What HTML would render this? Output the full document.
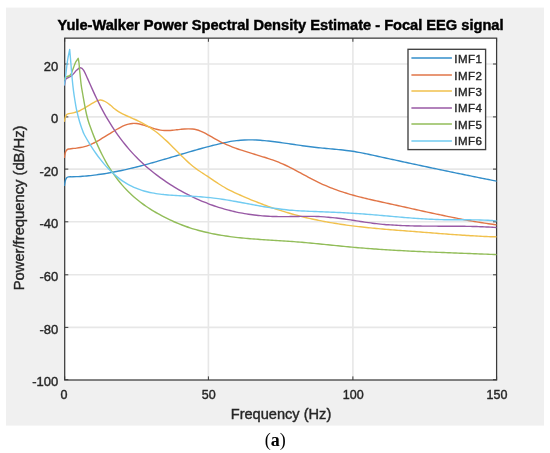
<!DOCTYPE html><html><head><meta charset="utf-8"><title>Yule-Walker PSD</title>
<style>html,body{margin:0;padding:0;background:#fff}svg{display:block}text{font-family:"Liberation Sans",Arial,Helvetica,sans-serif;fill:#262626;stroke:#262626;stroke-width:.4px}.ttl{fill:#000;stroke:#000;stroke-width:.45px}.cap{font-family:"Liberation Serif","DejaVu Serif",serif;fill:#000;stroke:none}</style></head><body>
<svg width="550" height="453" viewBox="0 0 550 453">
<rect x="0" y="0" width="550" height="453" fill="#fff"/>
<rect x="6" y="7.6" width="538" height="418" fill="#f0f0f0"/>
<rect x="64.7" y="38.15" width="431.90" height="341.85" fill="#fff"/>
<line x1="208.40" y1="38.15" x2="208.40" y2="380.0" stroke="#e7e7e7" stroke-width="1.6"/>
<line x1="352.90" y1="38.15" x2="352.90" y2="380.0" stroke="#e7e7e7" stroke-width="1.6"/>
<line x1="64.7" y1="64.00" x2="496.6" y2="64.00" stroke="#e7e7e7" stroke-width="1.6"/>
<line x1="64.7" y1="116.90" x2="496.6" y2="116.90" stroke="#e7e7e7" stroke-width="1.6"/>
<line x1="64.7" y1="169.10" x2="496.6" y2="169.10" stroke="#e7e7e7" stroke-width="1.6"/>
<line x1="64.7" y1="221.80" x2="496.6" y2="221.80" stroke="#e7e7e7" stroke-width="1.6"/>
<line x1="64.7" y1="274.80" x2="496.6" y2="274.80" stroke="#e7e7e7" stroke-width="1.6"/>
<line x1="64.7" y1="327.40" x2="496.6" y2="327.40" stroke="#e7e7e7" stroke-width="1.6"/>
<line x1="64.70" y1="380.0" x2="64.70" y2="376.4" stroke="#3a3a3a" stroke-width="1"/>
<line x1="64.70" y1="38.15" x2="64.70" y2="41.75" stroke="#3a3a3a" stroke-width="1"/>
<line x1="208.40" y1="380.0" x2="208.40" y2="376.4" stroke="#3a3a3a" stroke-width="1"/>
<line x1="208.40" y1="38.15" x2="208.40" y2="41.75" stroke="#3a3a3a" stroke-width="1"/>
<line x1="352.90" y1="380.0" x2="352.90" y2="376.4" stroke="#3a3a3a" stroke-width="1"/>
<line x1="352.90" y1="38.15" x2="352.90" y2="41.75" stroke="#3a3a3a" stroke-width="1"/>
<line x1="496.60" y1="380.0" x2="496.60" y2="376.4" stroke="#3a3a3a" stroke-width="1"/>
<line x1="496.60" y1="38.15" x2="496.60" y2="41.75" stroke="#3a3a3a" stroke-width="1"/>
<line x1="64.7" y1="64.00" x2="68.3" y2="64.00" stroke="#3a3a3a" stroke-width="1"/>
<line x1="496.6" y1="64.00" x2="493.0" y2="64.00" stroke="#3a3a3a" stroke-width="1"/>
<line x1="64.7" y1="116.90" x2="68.3" y2="116.90" stroke="#3a3a3a" stroke-width="1"/>
<line x1="496.6" y1="116.90" x2="493.0" y2="116.90" stroke="#3a3a3a" stroke-width="1"/>
<line x1="64.7" y1="169.10" x2="68.3" y2="169.10" stroke="#3a3a3a" stroke-width="1"/>
<line x1="496.6" y1="169.10" x2="493.0" y2="169.10" stroke="#3a3a3a" stroke-width="1"/>
<line x1="64.7" y1="221.80" x2="68.3" y2="221.80" stroke="#3a3a3a" stroke-width="1"/>
<line x1="496.6" y1="221.80" x2="493.0" y2="221.80" stroke="#3a3a3a" stroke-width="1"/>
<line x1="64.7" y1="274.80" x2="68.3" y2="274.80" stroke="#3a3a3a" stroke-width="1"/>
<line x1="496.6" y1="274.80" x2="493.0" y2="274.80" stroke="#3a3a3a" stroke-width="1"/>
<line x1="64.7" y1="327.40" x2="68.3" y2="327.40" stroke="#3a3a3a" stroke-width="1"/>
<line x1="496.6" y1="327.40" x2="493.0" y2="327.40" stroke="#3a3a3a" stroke-width="1"/>
<line x1="64.7" y1="379.70" x2="68.3" y2="379.70" stroke="#3a3a3a" stroke-width="1"/>
<line x1="496.6" y1="379.70" x2="493.0" y2="379.70" stroke="#3a3a3a" stroke-width="1"/>
<rect x="64.7" y="38.15" width="431.90" height="341.85" fill="none" stroke="#3a3a3a" stroke-width="1.25"/>
<clipPath id="c"><rect x="64.10000000000001" y="38.65" width="432.50" height="340.85"/></clipPath>
<g clip-path="url(#c)" fill="none" stroke-width="1.4" stroke-linejoin="round" stroke-linecap="butt">
<path d="M64.30,186.00C64.45,185.17 64.83,182.33 65.20,181.00C65.57,179.67 65.95,178.68 66.50,178.00C67.05,177.32 67.50,177.10 68.50,176.90C69.50,176.70 71.17,176.86 72.50,176.82C73.83,176.78 75.17,176.73 76.50,176.66C77.83,176.60 79.17,176.52 80.50,176.44C81.83,176.35 83.17,176.25 84.50,176.14C85.83,176.03 87.17,175.91 88.50,175.77C89.83,175.64 91.17,175.50 92.50,175.34C93.83,175.19 95.17,175.02 96.50,174.85C97.83,174.68 99.17,174.49 100.50,174.30C101.83,174.10 103.17,173.90 104.50,173.69C105.83,173.47 107.17,173.25 108.50,173.02C109.83,172.79 111.17,172.55 112.50,172.30C113.83,172.05 115.17,171.80 116.50,171.53C117.83,171.27 119.17,170.99 120.50,170.71C121.83,170.43 123.17,170.14 124.50,169.85C125.83,169.55 127.17,169.25 128.50,168.94C129.83,168.63 131.17,168.31 132.50,167.99C133.83,167.67 135.17,167.34 136.50,167.00C137.83,166.67 139.17,166.33 140.50,165.98C141.83,165.63 143.17,165.28 144.50,164.92C145.83,164.57 147.17,164.20 148.50,163.84C149.83,163.47 151.17,163.10 152.50,162.72C153.83,162.35 155.17,161.97 156.50,161.59C157.83,161.21 159.17,160.82 160.50,160.43C161.83,160.05 163.17,159.66 164.50,159.26C165.83,158.87 167.17,158.48 168.50,158.08C169.83,157.69 171.17,157.29 172.50,156.90C173.83,156.50 175.17,156.11 176.50,155.71C177.83,155.31 179.17,154.92 180.50,154.52C181.83,154.12 183.17,153.73 184.50,153.34C185.83,152.94 187.17,152.55 188.50,152.16C189.83,151.77 191.17,151.38 192.50,151.00C193.83,150.61 195.17,150.23 196.50,149.85C197.83,149.48 199.17,149.10 200.50,148.73C201.83,148.36 203.17,148.00 204.50,147.64C205.83,147.28 207.17,146.92 208.50,146.57C209.83,146.23 211.17,145.88 212.50,145.55C213.83,145.21 215.17,144.88 216.50,144.56C217.83,144.24 219.17,143.93 220.50,143.62C221.83,143.32 223.17,143.02 224.50,142.74C225.83,142.45 227.17,142.17 228.50,141.91C229.83,141.65 231.17,141.40 232.50,141.18C233.83,140.97 235.17,140.76 236.50,140.60C237.83,140.43 239.17,140.29 240.50,140.18C241.83,140.07 243.17,139.99 244.50,139.93C245.83,139.87 247.17,139.84 248.50,139.83C249.83,139.82 251.17,139.84 252.50,139.87C253.83,139.90 255.17,139.95 256.50,140.02C257.83,140.09 259.17,140.18 260.50,140.28C261.83,140.38 263.17,140.50 264.50,140.62C265.83,140.75 267.17,140.89 268.50,141.03C269.83,141.18 271.17,141.33 272.50,141.49C273.83,141.65 275.17,141.82 276.50,142.00C277.83,142.17 279.17,142.35 280.50,142.53C281.83,142.71 283.17,142.90 284.50,143.09C285.83,143.28 287.17,143.48 288.50,143.67C289.83,143.86 291.17,144.06 292.50,144.25C293.83,144.45 295.17,144.65 296.50,144.84C297.83,145.03 299.17,145.23 300.50,145.42C301.83,145.61 303.17,145.80 304.50,145.98C305.83,146.16 307.17,146.35 308.50,146.52C309.83,146.69 311.17,146.87 312.50,147.03C313.83,147.19 315.17,147.35 316.50,147.50C317.83,147.64 319.17,147.78 320.50,147.92C321.83,148.05 323.17,148.18 324.50,148.30C325.83,148.43 327.17,148.55 328.50,148.67C329.83,148.79 331.17,148.91 332.50,149.03C333.83,149.15 335.17,149.27 336.50,149.40C337.83,149.52 339.17,149.65 340.50,149.79C341.83,149.93 343.17,150.07 344.50,150.23C345.83,150.38 347.17,150.55 348.50,150.72C349.83,150.90 351.17,151.09 352.50,151.29C353.83,151.49 355.17,151.71 356.50,151.94C357.83,152.17 359.17,152.42 360.50,152.67C361.83,152.92 363.17,153.18 364.50,153.45C365.83,153.72 367.17,154.00 368.50,154.28C369.83,154.57 371.17,154.85 372.50,155.14C373.83,155.43 375.17,155.72 376.50,156.02C377.83,156.31 379.17,156.60 380.50,156.89C381.83,157.18 383.17,157.47 384.50,157.76C385.83,158.05 387.17,158.34 388.50,158.63C389.83,158.92 391.17,159.21 392.50,159.50C393.83,159.79 395.17,160.08 396.50,160.37C397.83,160.66 399.17,160.95 400.50,161.24C401.83,161.52 403.17,161.81 404.50,162.10C405.83,162.39 407.17,162.67 408.50,162.96C409.83,163.25 411.17,163.53 412.50,163.82C413.83,164.11 415.17,164.39 416.50,164.68C417.83,164.96 419.17,165.25 420.50,165.53C421.83,165.81 423.17,166.10 424.50,166.38C425.83,166.66 427.17,166.95 428.50,167.23C429.83,167.51 431.17,167.79 432.50,168.08C433.83,168.36 435.17,168.64 436.50,168.92C437.83,169.20 439.17,169.48 440.50,169.76C441.83,170.04 443.17,170.32 444.50,170.59C445.83,170.87 447.17,171.15 448.50,171.43C449.83,171.70 451.17,171.98 452.50,172.25C453.83,172.53 455.17,172.81 456.50,173.08C457.83,173.35 459.17,173.63 460.50,173.90C461.83,174.17 463.17,174.45 464.50,174.72C465.83,174.99 467.17,175.26 468.50,175.53C469.83,175.80 471.17,176.07 472.50,176.34C473.83,176.61 475.17,176.88 476.50,177.15C477.83,177.41 479.17,177.68 480.50,177.95C481.83,178.21 483.17,178.48 484.50,178.74C485.83,179.01 487.17,179.27 488.50,179.53C489.83,179.80 491.17,180.06 492.50,180.32C493.83,180.58 495.75,180.96 496.50,181.10C497.25,181.25 496.92,181.18 497.00,181.20" stroke="#338eca"/>
<path d="M64.30,158.00C64.45,157.17 64.83,154.30 65.20,153.00C65.57,151.70 65.95,150.87 66.50,150.20C67.05,149.53 67.50,149.27 68.50,149.00C69.50,148.73 71.17,148.72 72.50,148.57C73.83,148.42 75.17,148.30 76.50,148.12C77.83,147.95 79.17,147.77 80.50,147.53C81.83,147.28 83.17,147.01 84.50,146.65C85.83,146.29 87.17,145.86 88.50,145.37C89.83,144.87 91.17,144.29 92.50,143.68C93.83,143.06 95.17,142.37 96.50,141.66C97.83,140.94 99.17,140.18 100.50,139.39C101.83,138.61 103.17,137.79 104.50,136.97C105.83,136.14 107.17,135.29 108.50,134.46C109.83,133.62 111.17,132.77 112.50,131.95C113.83,131.13 115.17,130.30 116.50,129.52C117.83,128.74 119.17,127.97 120.50,127.28C121.83,126.60 123.17,125.94 124.50,125.40C125.83,124.87 127.17,124.39 128.50,124.06C129.83,123.73 131.17,123.52 132.50,123.44C133.83,123.35 135.17,123.42 136.50,123.56C137.83,123.70 139.17,123.97 140.50,124.27C141.83,124.58 143.17,124.99 144.50,125.40C145.83,125.81 147.17,126.29 148.50,126.74C149.83,127.19 151.17,127.68 152.50,128.11C153.83,128.53 155.17,128.96 156.50,129.29C157.83,129.62 159.17,129.89 160.50,130.09C161.83,130.28 163.17,130.38 164.50,130.44C165.83,130.49 167.17,130.48 168.50,130.43C169.83,130.39 171.17,130.29 172.50,130.19C173.83,130.08 175.17,129.93 176.50,129.79C177.83,129.66 179.17,129.49 180.50,129.36C181.83,129.23 183.17,129.09 184.50,129.00C185.83,128.92 187.17,128.85 188.50,128.86C189.83,128.87 191.17,128.91 192.50,129.06C193.83,129.21 195.17,129.42 196.50,129.76C197.83,130.09 199.17,130.54 200.50,131.06C201.83,131.59 203.17,132.24 204.50,132.91C205.83,133.59 207.17,134.36 208.50,135.11C209.83,135.87 211.17,136.68 212.50,137.45C213.83,138.22 215.17,139.00 216.50,139.73C217.83,140.46 219.17,141.15 220.50,141.82C221.83,142.48 223.17,143.11 224.50,143.72C225.83,144.32 227.17,144.90 228.50,145.45C229.83,146.01 231.17,146.54 232.50,147.05C233.83,147.56 235.17,148.04 236.50,148.52C237.83,148.99 239.17,149.45 240.50,149.89C241.83,150.34 243.17,150.77 244.50,151.19C245.83,151.61 247.17,152.02 248.50,152.43C249.83,152.84 251.17,153.24 252.50,153.64C253.83,154.04 255.17,154.44 256.50,154.84C257.83,155.24 259.17,155.64 260.50,156.05C261.83,156.45 263.17,156.86 264.50,157.29C265.83,157.71 267.17,158.14 268.50,158.59C269.83,159.03 271.17,159.48 272.50,159.96C273.83,160.43 275.17,160.92 276.50,161.43C277.83,161.94 279.17,162.47 280.50,163.03C281.83,163.58 283.17,164.16 284.50,164.76C285.83,165.37 287.17,166.00 288.50,166.66C289.83,167.31 291.17,167.99 292.50,168.67C293.83,169.36 295.17,170.07 296.50,170.78C297.83,171.49 299.17,172.22 300.50,172.94C301.83,173.67 303.17,174.40 304.50,175.13C305.83,175.85 307.17,176.58 308.50,177.30C309.83,178.01 311.17,178.72 312.50,179.42C313.83,180.11 315.17,180.79 316.50,181.45C317.83,182.11 319.17,182.75 320.50,183.37C321.83,183.99 323.17,184.59 324.50,185.17C325.83,185.75 327.17,186.31 328.50,186.85C329.83,187.40 331.17,187.92 332.50,188.43C333.83,188.94 335.17,189.43 336.50,189.91C337.83,190.39 339.17,190.85 340.50,191.30C341.83,191.75 343.17,192.18 344.50,192.60C345.83,193.02 347.17,193.43 348.50,193.83C349.83,194.23 351.17,194.61 352.50,194.99C353.83,195.36 355.17,195.73 356.50,196.09C357.83,196.44 359.17,196.79 360.50,197.13C361.83,197.47 363.17,197.80 364.50,198.12C365.83,198.45 367.17,198.76 368.50,199.08C369.83,199.39 371.17,199.70 372.50,200.00C373.83,200.30 375.17,200.60 376.50,200.90C377.83,201.20 379.17,201.49 380.50,201.78C381.83,202.07 383.17,202.36 384.50,202.65C385.83,202.94 387.17,203.23 388.50,203.52C389.83,203.81 391.17,204.10 392.50,204.39C393.83,204.68 395.17,204.98 396.50,205.27C397.83,205.56 399.17,205.86 400.50,206.15C401.83,206.45 403.17,206.74 404.50,207.04C405.83,207.34 407.17,207.63 408.50,207.93C409.83,208.23 411.17,208.52 412.50,208.82C413.83,209.12 415.17,209.41 416.50,209.71C417.83,210.00 419.17,210.30 420.50,210.59C421.83,210.89 423.17,211.18 424.50,211.47C425.83,211.77 427.17,212.06 428.50,212.35C429.83,212.64 431.17,212.93 432.50,213.22C433.83,213.51 435.17,213.79 436.50,214.08C437.83,214.36 439.17,214.64 440.50,214.93C441.83,215.21 443.17,215.49 444.50,215.76C445.83,216.04 447.17,216.31 448.50,216.58C449.83,216.86 451.17,217.13 452.50,217.39C453.83,217.66 455.17,217.92 456.50,218.18C457.83,218.44 459.17,218.70 460.50,218.96C461.83,219.21 463.17,219.46 464.50,219.71C465.83,219.96 467.17,220.20 468.50,220.44C469.83,220.68 471.17,220.92 472.50,221.15C473.83,221.38 475.17,221.61 476.50,221.83C477.83,222.06 479.17,222.28 480.50,222.49C481.83,222.71 483.17,222.92 484.50,223.12C485.83,223.33 487.17,223.53 488.50,223.73C489.83,223.92 491.17,224.11 492.50,224.30C493.83,224.48 495.75,224.74 496.50,224.84C497.25,224.94 496.92,224.89 497.00,224.90" stroke="#e17547"/>
<path d="M64.30,121.80C64.45,121.08 64.87,118.63 65.20,117.50C65.53,116.37 65.83,115.60 66.30,115.00C66.77,114.40 66.88,114.25 68.00,113.90C69.12,113.55 71.33,113.30 73.00,112.90C74.67,112.50 76.50,112.08 78.00,111.50C79.50,110.92 80.58,110.17 82.00,109.40C83.42,108.63 84.65,107.98 86.50,106.90C88.35,105.82 91.28,103.93 93.10,102.90C94.92,101.87 96.13,101.18 97.40,100.70C98.67,100.22 99.42,99.87 100.70,100.00C101.98,100.13 103.47,100.62 105.10,101.50C106.73,102.38 108.93,104.09 110.50,105.30C112.07,106.51 113.17,107.72 114.50,108.76C115.83,109.80 117.17,110.70 118.50,111.54C119.83,112.39 121.17,113.12 122.50,113.82C123.83,114.52 125.17,115.14 126.50,115.75C127.83,116.36 129.17,116.92 130.50,117.50C131.83,118.08 133.17,118.64 134.50,119.24C135.83,119.84 137.17,120.45 138.50,121.11C139.83,121.76 141.17,122.44 142.50,123.16C143.83,123.88 145.17,124.63 146.50,125.42C147.83,126.22 149.17,127.05 150.50,127.93C151.83,128.81 153.17,129.73 154.50,130.70C155.83,131.68 157.17,132.70 158.50,133.78C159.83,134.86 161.17,136.00 162.50,137.18C163.83,138.36 165.17,139.61 166.50,140.87C167.83,142.13 169.17,143.45 170.50,144.76C171.83,146.08 173.17,147.43 174.50,148.77C175.83,150.11 177.17,151.47 178.50,152.81C179.83,154.14 181.17,155.48 182.50,156.79C183.83,158.09 185.17,159.38 186.50,160.62C187.83,161.86 189.17,163.08 190.50,164.23C191.83,165.38 193.17,166.49 194.50,167.53C195.83,168.56 197.17,169.52 198.50,170.45C199.83,171.38 201.17,172.23 202.50,173.10C203.83,173.98 205.17,174.80 206.50,175.67C207.83,176.54 209.17,177.42 210.50,178.31C211.83,179.21 213.17,180.14 214.50,181.05C215.83,181.95 217.17,182.88 218.50,183.75C219.83,184.62 221.17,185.47 222.50,186.27C223.83,187.07 225.17,187.82 226.50,188.54C227.83,189.26 229.17,189.94 230.50,190.60C231.83,191.26 233.17,191.89 234.50,192.51C235.83,193.14 237.17,193.74 238.50,194.35C239.83,194.95 241.17,195.54 242.50,196.13C243.83,196.71 245.17,197.29 246.50,197.86C247.83,198.42 249.17,198.98 250.50,199.54C251.83,200.09 253.17,200.63 254.50,201.16C255.83,201.70 257.17,202.22 258.50,202.74C259.83,203.26 261.17,203.77 262.50,204.27C263.83,204.77 265.17,205.26 266.50,205.75C267.83,206.23 269.17,206.70 270.50,207.17C271.83,207.64 273.17,208.10 274.50,208.55C275.83,209.00 277.17,209.44 278.50,209.87C279.83,210.30 281.17,210.73 282.50,211.15C283.83,211.56 285.17,211.97 286.50,212.37C287.83,212.77 289.17,213.16 290.50,213.54C291.83,213.92 293.17,214.30 294.50,214.66C295.83,215.03 297.17,215.39 298.50,215.73C299.83,216.08 301.17,216.42 302.50,216.75C303.83,217.09 305.17,217.41 306.50,217.72C307.83,218.04 309.17,218.35 310.50,218.65C311.83,218.95 313.17,219.24 314.50,219.52C315.83,219.81 317.17,220.08 318.50,220.35C319.83,220.62 321.17,220.89 322.50,221.14C323.83,221.40 325.17,221.65 326.50,221.89C327.83,222.13 329.17,222.37 330.50,222.60C331.83,222.82 333.17,223.05 334.50,223.26C335.83,223.48 337.17,223.69 338.50,223.90C339.83,224.10 341.17,224.30 342.50,224.50C343.83,224.69 345.17,224.88 346.50,225.07C347.83,225.25 349.17,225.43 350.50,225.60C351.83,225.78 353.17,225.94 354.50,226.11C355.83,226.27 357.17,226.43 358.50,226.59C359.83,226.75 361.17,226.90 362.50,227.04C363.83,227.19 365.17,227.34 366.50,227.48C367.83,227.62 369.17,227.75 370.50,227.89C371.83,228.02 373.17,228.15 374.50,228.28C375.83,228.41 377.17,228.53 378.50,228.65C379.83,228.78 381.17,228.89 382.50,229.01C383.83,229.13 385.17,229.24 386.50,229.36C387.83,229.47 389.17,229.58 390.50,229.69C391.83,229.80 393.17,229.91 394.50,230.02C395.83,230.12 397.17,230.23 398.50,230.34C399.83,230.44 401.17,230.54 402.50,230.65C403.83,230.75 405.17,230.85 406.50,230.96C407.83,231.06 409.17,231.16 410.50,231.26C411.83,231.37 413.17,231.47 414.50,231.57C415.83,231.67 417.17,231.78 418.50,231.88C419.83,231.98 421.17,232.09 422.50,232.19C423.83,232.30 425.17,232.40 426.50,232.51C427.83,232.61 429.17,232.72 430.50,232.82C431.83,232.93 433.17,233.03 434.50,233.14C435.83,233.24 437.17,233.34 438.50,233.45C439.83,233.55 441.17,233.65 442.50,233.75C443.83,233.86 445.17,233.96 446.50,234.06C447.83,234.16 449.17,234.26 450.50,234.35C451.83,234.45 453.17,234.55 454.50,234.64C455.83,234.74 457.17,234.83 458.50,234.92C459.83,235.01 461.17,235.10 462.50,235.19C463.83,235.28 465.17,235.36 466.50,235.45C467.83,235.53 469.17,235.61 470.50,235.69C471.83,235.77 473.17,235.85 474.50,235.92C475.83,236.00 477.17,236.07 478.50,236.14C479.83,236.21 481.17,236.27 482.50,236.34C483.83,236.40 485.17,236.46 486.50,236.52C487.83,236.57 489.17,236.63 490.50,236.68C491.83,236.73 493.42,236.78 494.50,236.82C495.58,236.86 496.58,236.88 497.00,236.90" stroke="#f1c14d"/>
<path d="M64.20,85.50C64.37,84.75 64.82,82.17 65.20,81.00C65.58,79.83 65.38,79.42 66.50,78.50C67.62,77.58 70.23,76.87 71.90,75.50C73.57,74.13 75.08,71.60 76.50,70.30C77.92,69.00 79.20,67.70 80.40,67.70C81.60,67.70 82.50,68.48 83.70,70.30C84.90,72.12 86.13,75.38 87.60,78.60C89.07,81.82 91.02,86.32 92.50,89.60C93.98,92.89 95.17,95.52 96.50,98.32C97.83,101.11 99.17,103.79 100.50,106.37C101.83,108.96 103.17,111.43 104.50,113.82C105.83,116.21 107.17,118.50 108.50,120.71C109.83,122.92 111.17,125.04 112.50,127.10C113.83,129.15 115.17,131.12 116.50,133.03C117.83,134.94 119.17,136.78 120.50,138.56C121.83,140.35 123.17,142.07 124.50,143.74C125.83,145.41 127.17,147.02 128.50,148.58C129.83,150.14 131.17,151.65 132.50,153.11C133.83,154.57 135.17,155.98 136.50,157.35C137.83,158.72 139.17,160.04 140.50,161.32C141.83,162.60 143.17,163.84 144.50,165.04C145.83,166.25 147.17,167.41 148.50,168.54C149.83,169.67 151.17,170.76 152.50,171.82C153.83,172.89 155.17,173.92 156.50,174.92C157.83,175.93 159.17,176.90 160.50,177.86C161.83,178.81 163.17,179.74 164.50,180.65C165.83,181.56 167.17,182.44 168.50,183.31C169.83,184.18 171.17,185.03 172.50,185.86C173.83,186.69 175.17,187.50 176.50,188.29C177.83,189.08 179.17,189.86 180.50,190.61C181.83,191.37 183.17,192.10 184.50,192.82C185.83,193.53 187.17,194.23 188.50,194.91C189.83,195.59 191.17,196.26 192.50,196.90C193.83,197.54 195.17,198.17 196.50,198.78C197.83,199.39 199.17,199.98 200.50,200.55C201.83,201.13 203.17,201.68 204.50,202.22C205.83,202.76 207.17,203.29 208.50,203.79C209.83,204.30 211.17,204.79 212.50,205.26C213.83,205.73 215.17,206.19 216.50,206.63C217.83,207.07 219.17,207.50 220.50,207.90C221.83,208.31 223.17,208.70 224.50,209.08C225.83,209.46 227.17,209.82 228.50,210.17C229.83,210.51 231.17,210.84 232.50,211.16C233.83,211.47 235.17,211.77 236.50,212.06C237.83,212.34 239.17,212.62 240.50,212.87C241.83,213.13 243.17,213.37 244.50,213.60C245.83,213.83 247.17,214.04 248.50,214.24C249.83,214.44 251.17,214.63 252.50,214.80C253.83,214.97 255.17,215.13 256.50,215.28C257.83,215.42 259.17,215.55 260.50,215.67C261.83,215.80 263.17,215.90 264.50,216.00C265.83,216.10 267.17,216.18 268.50,216.26C269.83,216.33 271.17,216.39 272.50,216.44C273.83,216.49 275.17,216.53 276.50,216.57C277.83,216.60 279.17,216.62 280.50,216.63C281.83,216.64 283.17,216.64 284.50,216.63C285.83,216.63 287.17,216.62 288.50,216.60C289.83,216.58 291.17,216.56 292.50,216.54C293.83,216.52 295.17,216.49 296.50,216.47C297.83,216.44 299.17,216.42 300.50,216.40C301.83,216.38 303.17,216.36 304.50,216.35C305.83,216.34 307.17,216.33 308.50,216.34C309.83,216.34 311.17,216.35 312.50,216.37C313.83,216.39 315.17,216.42 316.50,216.46C317.83,216.51 319.17,216.57 320.50,216.64C321.83,216.71 323.17,216.79 324.50,216.89C325.83,216.98 327.17,217.09 328.50,217.21C329.83,217.32 331.17,217.45 332.50,217.59C333.83,217.73 335.17,217.87 336.50,218.03C337.83,218.18 339.17,218.35 340.50,218.52C341.83,218.69 343.17,218.87 344.50,219.05C345.83,219.24 347.17,219.43 348.50,219.62C349.83,219.82 351.17,220.02 352.50,220.22C353.83,220.43 355.17,220.64 356.50,220.85C357.83,221.06 359.17,221.27 360.50,221.48C361.83,221.68 363.17,221.89 364.50,222.09C365.83,222.29 367.17,222.48 368.50,222.67C369.83,222.85 371.17,223.03 372.50,223.19C373.83,223.36 375.17,223.52 376.50,223.66C377.83,223.81 379.17,223.95 380.50,224.08C381.83,224.21 383.17,224.34 384.50,224.45C385.83,224.57 387.17,224.67 388.50,224.77C389.83,224.87 391.17,224.96 392.50,225.05C393.83,225.14 395.17,225.22 396.50,225.29C397.83,225.36 399.17,225.43 400.50,225.49C401.83,225.55 403.17,225.61 404.50,225.66C405.83,225.71 407.17,225.75 408.50,225.80C409.83,225.84 411.17,225.87 412.50,225.91C413.83,225.94 415.17,225.97 416.50,225.99C417.83,226.02 419.17,226.04 420.50,226.06C421.83,226.08 423.17,226.09 424.50,226.10C425.83,226.12 427.17,226.13 428.50,226.14C429.83,226.15 431.17,226.15 432.50,226.16C433.83,226.16 435.17,226.17 436.50,226.17C437.83,226.18 439.17,226.18 440.50,226.18C441.83,226.18 443.17,226.18 444.50,226.19C445.83,226.19 447.17,226.19 448.50,226.19C449.83,226.20 451.17,226.20 452.50,226.21C453.83,226.21 455.17,226.22 456.50,226.23C457.83,226.23 459.17,226.24 460.50,226.26C461.83,226.27 463.17,226.28 464.50,226.30C465.83,226.32 467.17,226.34 468.50,226.36C469.83,226.39 471.17,226.42 472.50,226.45C473.83,226.48 475.17,226.51 476.50,226.55C477.83,226.59 479.17,226.64 480.50,226.69C481.83,226.74 483.17,226.79 484.50,226.85C485.83,226.91 487.17,226.97 488.50,227.04C489.83,227.12 491.17,227.19 492.50,227.28C493.83,227.36 495.75,227.50 496.50,227.55C497.25,227.60 496.92,227.58 497.00,227.59" stroke="#9859a5"/>
<path d="M64.30,80.00C64.45,79.60 64.75,78.17 65.20,77.60C65.65,77.03 66.27,76.93 67.00,76.60C67.73,76.27 68.88,76.12 69.60,75.60C70.32,75.08 70.65,74.82 71.30,73.50C71.95,72.18 72.78,69.57 73.50,67.70C74.22,65.83 74.82,63.87 75.60,62.30C76.38,60.73 77.33,59.63 78.20,58.30C78.47,59.87 78.73,60.72 79.00,63.00C79.27,65.28 79.43,68.33 79.80,72.00C80.17,75.67 80.72,81.33 81.20,85.00C81.68,88.67 81.93,89.67 82.70,94.00C83.47,98.33 84.92,106.67 85.80,111.00C86.68,115.33 87.30,117.50 88.00,120.00C88.70,122.50 89.00,123.23 90.00,126.00C91.00,128.77 92.67,133.28 94.00,136.63C95.33,139.98 96.67,143.13 98.00,146.11C99.33,149.10 100.67,151.90 102.00,154.56C103.33,157.22 104.67,159.70 106.00,162.07C107.33,164.43 108.67,166.64 110.00,168.74C111.33,170.85 112.67,172.81 114.00,174.69C115.33,176.58 116.67,178.33 118.00,180.03C119.33,181.72 120.67,183.31 122.00,184.84C123.33,186.38 124.67,187.83 126.00,189.23C127.33,190.63 128.67,191.97 130.00,193.25C131.33,194.53 132.67,195.74 134.00,196.92C135.33,198.09 136.67,199.20 138.00,200.28C139.33,201.36 140.67,202.38 142.00,203.37C143.33,204.36 144.67,205.31 146.00,206.23C147.33,207.15 148.67,208.03 150.00,208.88C151.33,209.74 152.67,210.57 154.00,211.38C155.33,212.18 156.67,212.96 158.00,213.72C159.33,214.48 160.67,215.21 162.00,215.92C163.33,216.64 164.67,217.33 166.00,217.99C167.33,218.66 168.67,219.31 170.00,219.93C171.33,220.56 172.67,221.16 174.00,221.74C175.33,222.33 176.67,222.89 178.00,223.43C179.33,223.98 180.67,224.50 182.00,225.01C183.33,225.51 184.67,226.00 186.00,226.47C187.33,226.94 188.67,227.39 190.00,227.83C191.33,228.26 192.67,228.68 194.00,229.08C195.33,229.48 196.67,229.87 198.00,230.24C199.33,230.61 200.67,230.96 202.00,231.30C203.33,231.65 204.67,231.97 206.00,232.28C207.33,232.60 208.67,232.89 210.00,233.18C211.33,233.47 212.67,233.74 214.00,234.00C215.33,234.26 216.67,234.51 218.00,234.75C219.33,234.99 220.67,235.21 222.00,235.43C223.33,235.65 224.67,235.85 226.00,236.05C227.33,236.24 228.67,236.43 230.00,236.61C231.33,236.79 232.67,236.95 234.00,237.12C235.33,237.28 236.67,237.43 238.00,237.58C239.33,237.72 240.67,237.86 242.00,237.99C243.33,238.12 244.67,238.25 246.00,238.37C247.33,238.49 248.67,238.61 250.00,238.72C251.33,238.83 252.67,238.93 254.00,239.03C255.33,239.13 256.67,239.23 258.00,239.32C259.33,239.42 260.67,239.51 262.00,239.60C263.33,239.69 264.67,239.77 266.00,239.86C267.33,239.94 268.67,240.02 270.00,240.11C271.33,240.19 272.67,240.27 274.00,240.35C275.33,240.43 276.67,240.51 278.00,240.59C279.33,240.68 280.67,240.76 282.00,240.84C283.33,240.93 284.67,241.01 286.00,241.10C287.33,241.19 288.67,241.28 290.00,241.37C291.33,241.47 292.67,241.56 294.00,241.67C295.33,241.77 296.67,241.87 298.00,241.98C299.33,242.09 300.67,242.20 302.00,242.31C303.33,242.43 304.67,242.54 306.00,242.66C307.33,242.78 308.67,242.91 310.00,243.03C311.33,243.16 312.67,243.28 314.00,243.41C315.33,243.54 316.67,243.67 318.00,243.80C319.33,243.93 320.67,244.06 322.00,244.20C323.33,244.33 324.67,244.46 326.00,244.60C327.33,244.73 328.67,244.87 330.00,245.00C331.33,245.14 332.67,245.27 334.00,245.41C335.33,245.54 336.67,245.67 338.00,245.81C339.33,245.94 340.67,246.07 342.00,246.20C343.33,246.33 344.67,246.46 346.00,246.59C347.33,246.72 348.67,246.84 350.00,246.96C351.33,247.09 352.67,247.21 354.00,247.33C355.33,247.45 356.67,247.56 358.00,247.68C359.33,247.79 360.67,247.90 362.00,248.01C363.33,248.12 364.67,248.22 366.00,248.33C367.33,248.43 368.67,248.54 370.00,248.64C371.33,248.74 372.67,248.83 374.00,248.93C375.33,249.02 376.67,249.12 378.00,249.21C379.33,249.30 380.67,249.39 382.00,249.48C383.33,249.57 384.67,249.65 386.00,249.74C387.33,249.82 388.67,249.91 390.00,249.99C391.33,250.07 392.67,250.15 394.00,250.23C395.33,250.30 396.67,250.38 398.00,250.45C399.33,250.53 400.67,250.60 402.00,250.67C403.33,250.75 404.67,250.82 406.00,250.88C407.33,250.95 408.67,251.02 410.00,251.09C411.33,251.15 412.67,251.22 414.00,251.28C415.33,251.35 416.67,251.41 418.00,251.47C419.33,251.53 420.67,251.60 422.00,251.66C423.33,251.72 424.67,251.77 426.00,251.83C427.33,251.89 428.67,251.95 430.00,252.00C431.33,252.06 432.67,252.12 434.00,252.17C435.33,252.23 436.67,252.28 438.00,252.33C439.33,252.39 440.67,252.44 442.00,252.49C443.33,252.55 444.67,252.60 446.00,252.65C447.33,252.70 448.67,252.75 450.00,252.80C451.33,252.86 452.67,252.91 454.00,252.96C455.33,253.01 456.67,253.06 458.00,253.11C459.33,253.16 460.67,253.21 462.00,253.26C463.33,253.31 464.67,253.36 466.00,253.41C467.33,253.46 468.67,253.51 470.00,253.56C471.33,253.61 472.67,253.66 474.00,253.71C475.33,253.76 476.67,253.81 478.00,253.86C479.33,253.91 480.67,253.96 482.00,254.01C483.33,254.06 484.67,254.11 486.00,254.17C487.33,254.22 488.67,254.27 490.00,254.33C491.33,254.38 492.83,254.44 494.00,254.49C495.17,254.54 496.50,254.59 497.00,254.61" stroke="#92bd59"/>
<path d="M64.20,85.50C64.45,83.83 65.13,79.75 65.70,75.50C66.27,71.25 66.93,64.33 67.60,60.00C68.27,55.67 69.00,53.00 69.70,49.50C70.17,55.00 70.68,61.08 71.10,66.00C71.52,70.92 71.80,74.85 72.20,79.00C72.60,83.15 73.03,87.23 73.50,90.90C73.97,94.57 74.50,97.90 75.00,101.00C75.50,104.10 75.73,106.03 76.50,109.50C77.27,112.97 78.62,118.38 79.60,121.80C80.58,125.22 81.67,127.97 82.40,130.00C83.13,132.03 83.07,132.16 84.00,134.00C84.93,135.84 86.67,138.80 88.00,141.05C89.33,143.31 90.67,145.47 92.00,147.54C93.33,149.62 94.67,151.60 96.00,153.49C97.33,155.39 98.67,157.20 100.00,158.93C101.33,160.65 102.67,162.30 104.00,163.86C105.33,165.43 106.67,166.91 108.00,168.32C109.33,169.74 110.67,171.07 112.00,172.33C113.33,173.60 114.67,174.79 116.00,175.91C117.33,177.04 118.67,178.09 120.00,179.09C121.33,180.08 122.67,181.01 124.00,181.87C125.33,182.74 126.67,183.55 128.00,184.30C129.33,185.06 130.67,185.75 132.00,186.40C133.33,187.05 134.67,187.64 136.00,188.19C137.33,188.74 138.67,189.24 140.00,189.71C141.33,190.17 142.67,190.59 144.00,190.98C145.33,191.36 146.67,191.71 148.00,192.02C149.33,192.34 150.67,192.62 152.00,192.88C153.33,193.14 154.67,193.37 156.00,193.57C157.33,193.78 158.67,193.96 160.00,194.13C161.33,194.30 162.67,194.44 164.00,194.58C165.33,194.71 166.67,194.83 168.00,194.95C169.33,195.06 170.67,195.16 172.00,195.25C173.33,195.34 174.67,195.43 176.00,195.51C177.33,195.59 178.67,195.66 180.00,195.73C181.33,195.80 182.67,195.87 184.00,195.93C185.33,196.00 186.67,196.06 188.00,196.13C189.33,196.19 190.67,196.25 192.00,196.32C193.33,196.39 194.67,196.46 196.00,196.54C197.33,196.62 198.67,196.70 200.00,196.79C201.33,196.88 202.67,196.97 204.00,197.08C205.33,197.19 206.67,197.30 208.00,197.43C209.33,197.56 210.67,197.70 212.00,197.85C213.33,198.00 214.67,198.17 216.00,198.34C217.33,198.52 218.67,198.70 220.00,198.89C221.33,199.09 222.67,199.29 224.00,199.50C225.33,199.71 226.67,199.93 228.00,200.15C229.33,200.37 230.67,200.60 232.00,200.83C233.33,201.07 234.67,201.31 236.00,201.55C237.33,201.79 238.67,202.04 240.00,202.29C241.33,202.53 242.67,202.78 244.00,203.04C245.33,203.29 246.67,203.54 248.00,203.79C249.33,204.04 250.67,204.29 252.00,204.54C253.33,204.79 254.67,205.04 256.00,205.28C257.33,205.52 258.67,205.76 260.00,206.00C261.33,206.23 262.67,206.46 264.00,206.69C265.33,206.91 266.67,207.14 268.00,207.35C269.33,207.56 270.67,207.77 272.00,207.97C273.33,208.17 274.67,208.36 276.00,208.54C277.33,208.72 278.67,208.90 280.00,209.06C281.33,209.23 282.67,209.38 284.00,209.53C285.33,209.67 286.67,209.81 288.00,209.93C289.33,210.06 290.67,210.17 292.00,210.28C293.33,210.39 294.67,210.49 296.00,210.58C297.33,210.67 298.67,210.76 300.00,210.84C301.33,210.92 302.67,210.99 304.00,211.06C305.33,211.13 306.67,211.19 308.00,211.25C309.33,211.31 310.67,211.36 312.00,211.42C313.33,211.47 314.67,211.52 316.00,211.57C317.33,211.62 318.67,211.67 320.00,211.72C321.33,211.77 322.67,211.81 324.00,211.86C325.33,211.91 326.67,211.96 328.00,212.01C329.33,212.07 330.67,212.12 332.00,212.18C333.33,212.23 334.67,212.29 336.00,212.35C337.33,212.41 338.67,212.48 340.00,212.54C341.33,212.61 342.67,212.68 344.00,212.75C345.33,212.82 346.67,212.90 348.00,212.97C349.33,213.05 350.67,213.13 352.00,213.21C353.33,213.29 354.67,213.38 356.00,213.47C357.33,213.55 358.67,213.64 360.00,213.74C361.33,213.83 362.67,213.93 364.00,214.03C365.33,214.13 366.67,214.23 368.00,214.33C369.33,214.44 370.67,214.55 372.00,214.66C373.33,214.77 374.67,214.88 376.00,214.99C377.33,215.10 378.67,215.22 380.00,215.34C381.33,215.45 382.67,215.57 384.00,215.69C385.33,215.80 386.67,215.92 388.00,216.04C389.33,216.16 390.67,216.28 392.00,216.40C393.33,216.51 394.67,216.63 396.00,216.75C397.33,216.87 398.67,216.98 400.00,217.10C401.33,217.21 402.67,217.32 404.00,217.43C405.33,217.55 406.67,217.66 408.00,217.76C409.33,217.87 410.67,217.97 412.00,218.08C413.33,218.18 414.67,218.28 416.00,218.37C417.33,218.47 418.67,218.56 420.00,218.65C421.33,218.74 422.67,218.82 424.00,218.90C425.33,218.98 426.67,219.06 428.00,219.13C429.33,219.20 430.67,219.26 432.00,219.32C433.33,219.38 434.67,219.44 436.00,219.49C437.33,219.54 438.67,219.58 440.00,219.62C441.33,219.66 442.67,219.69 444.00,219.71C445.33,219.74 446.67,219.75 448.00,219.77C449.33,219.78 450.67,219.79 452.00,219.79C453.33,219.80 454.67,219.80 456.00,219.80C457.33,219.80 458.67,219.80 460.00,219.80C461.33,219.80 462.67,219.79 464.00,219.79C465.33,219.80 466.67,219.80 468.00,219.80C469.33,219.81 470.67,219.81 472.00,219.83C473.33,219.84 474.67,219.86 476.00,219.88C477.33,219.90 478.67,219.93 480.00,219.97C481.33,220.01 482.67,220.05 484.00,220.11C485.33,220.16 486.67,220.22 488.00,220.30C489.33,220.38 490.67,220.46 492.00,220.56C493.33,220.66 495.17,220.82 496.00,220.89C496.83,220.96 496.83,220.97 497.00,220.99" stroke="#71cbf1"/>
</g>
<text x="58.2" y="70.50" font-size="13" text-anchor="end">20</text>
<text x="58.2" y="123.40" font-size="13" text-anchor="end">0</text>
<text x="58.2" y="175.60" font-size="13" text-anchor="end">-20</text>
<text x="58.2" y="228.30" font-size="13" text-anchor="end">-40</text>
<text x="58.2" y="281.30" font-size="13" text-anchor="end">-60</text>
<text x="58.2" y="333.90" font-size="13" text-anchor="end">-80</text>
<text x="58.2" y="386.20" font-size="13" text-anchor="end">-100</text>
<text x="64.00" y="398.8" font-size="12.5" text-anchor="middle">0</text>
<text x="208.80" y="398.8" font-size="12.5" text-anchor="middle">50</text>
<text x="353.30" y="398.8" font-size="12.5" text-anchor="middle">100</text>
<text x="497.00" y="398.8" font-size="12.5" text-anchor="middle">150</text>
<text x="281" y="419.3" font-size="14.6" text-anchor="middle">Frequency (Hz)</text>
<text transform="translate(24.1,207.9) rotate(-90)" font-size="14.75" text-anchor="middle">Power/frequency (dB/Hz)</text>
<text class="ttl" x="280.5" y="30.4" font-size="14.62" font-weight="bold" text-anchor="middle">Yule-Walker Power Spectral Density Estimate - Focal EEG signal</text>
<rect x="408" y="49.3" width="77.6" height="100.3" fill="#fff" stroke="#404040" stroke-width="1.35"/>
<line x1="411.4" y1="58.00" x2="451.9" y2="58.00" stroke="#338eca" stroke-width="1.5"/>
<text x="454.3" y="63.20" font-size="11.5" letter-spacing="0.45">IMF1</text>
<line x1="411.4" y1="75.00" x2="451.9" y2="75.00" stroke="#e17547" stroke-width="1.5"/>
<text x="454.3" y="79.50" font-size="11.5" letter-spacing="0.45">IMF2</text>
<line x1="411.4" y1="91.00" x2="451.9" y2="91.00" stroke="#f1c14d" stroke-width="1.5"/>
<text x="454.3" y="96.00" font-size="11.5" letter-spacing="0.45">IMF3</text>
<line x1="411.4" y1="108.00" x2="451.9" y2="108.00" stroke="#9859a5" stroke-width="1.5"/>
<text x="454.3" y="112.30" font-size="11.5" letter-spacing="0.45">IMF4</text>
<line x1="411.4" y1="124.00" x2="451.9" y2="124.00" stroke="#92bd59" stroke-width="1.5"/>
<text x="454.3" y="129.00" font-size="11.5" letter-spacing="0.45">IMF5</text>
<line x1="411.4" y1="141.00" x2="451.9" y2="141.00" stroke="#71cbf1" stroke-width="1.5"/>
<text x="454.3" y="145.40" font-size="11.5" letter-spacing="0.45">IMF6</text>
<text class="cap" x="275.2" y="445.6" font-size="18" text-anchor="middle">(<tspan font-weight="bold">a</tspan>)</text>
</svg></body></html>
